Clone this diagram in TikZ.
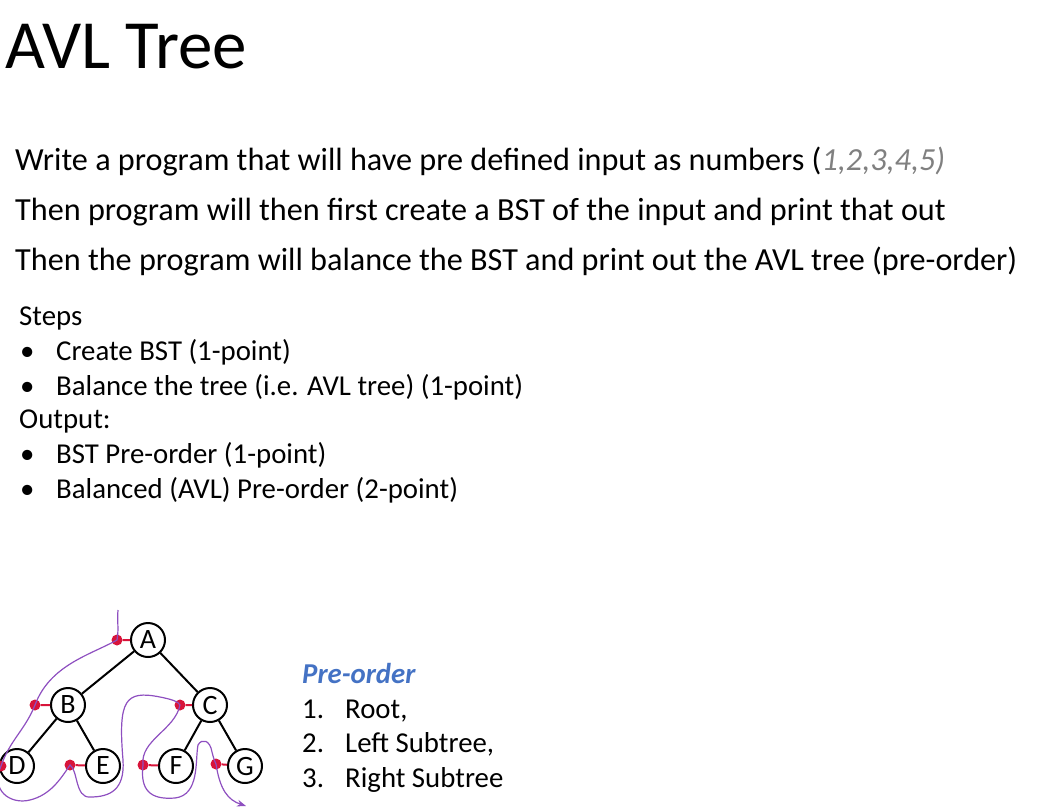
\documentclass[tikz,border=0pt]{standalone}
\usepackage{fontspec}
\setmainfont{Carlito}
\usetikzlibrary{arrows.meta}
\definecolor{pur}{HTML}{8E4FC0}
\definecolor{reddot}{HTML}{D8143A}
\definecolor{blu}{HTML}{4472C4}
\begin{document}
\begin{tikzpicture}[x=1pt,y=-1pt,
  txt/.style={anchor=base west,inner sep=0pt,font=\fontsize{32.2}{34}\selectfont},
  sm/.style={anchor=base west,inner sep=0pt,font=\fontsize{28.8}{30}\selectfont},
  tn/.style={circle,draw,line width=2pt,minimum size=34pt,inner sep=0pt,font=\fontsize{28}{28}\selectfont},
  dot/.style={circle,fill=reddot,inner sep=0pt,minimum size=11pt},
  edge/.style={line width=2pt}]
\useasboundingbox (0,0) rectangle (1056,808);
\node[anchor=base west,inner sep=0pt,font=\fontsize{69}{70}\selectfont] (title) at (5,68) {AVL Tree};
\node[txt] (l1) at (15,170) {Write a program that will have pre defined input as numbers (\textcolor{gray}{\textit{1,2,3,4,5)}}};
\node[txt] (l2) at (15,220) {Then program will then first create a BST of the input and print that out};
\node[txt] (l3) at (15,270) {Then the program will balance the BST and print out the AVL tree (pre-order)};
\node[sm] (s0) at (19,325) {Steps};
\node[sm] (s1) at (56,360) {Create BST (1-point)};
\node[sm] (s2) at (56,395) {Balance the tree (i.e. AVL tree) (1-point)};
\node[sm] (s3) at (19,428) {Output:};
\node[sm] (s4) at (56,463) {BST Pre-order (1-point)};
\node[sm] (s5) at (56,498) {Balanced (AVL) Pre-order (2-point)};
\foreach \y/\n in {360/b1,395/b2,463/b3,498/b4} \node[sm] (\n) at (20,\y) {•};
\node[sm,text=blu,font=\fontsize{28.8}{30}\selectfont\bfseries\itshape] (po) at (302,683) {Pre-order};
\node[sm] (p1) at (302,718) {1.}; \node[sm] (q1) at (345,718) {Root,};
\node[sm] (p2) at (302,752) {2.}; \node[sm] (q2) at (345,752) {Left Subtree,};
\node[sm] (p3) at (302,787) {3.}; \node[sm] (q3) at (345,787) {Right Subtree};
% tree
\node[tn] (A) at (148,640) {A};
\node[tn] (B) at (68,705) {B};
\node[tn] (C) at (210,705) {C};
\node[tn] (D) at (17,766) {D};
\node[tn] (E) at (103,766) {E};
\node[tn] (F) at (176,766) {F};
\node[tn] (G) at (245,766) {G};
\draw[edge] (A)--(B) (A)--(C) (B)--(D) (B)--(E) (C)--(F) (C)--(G);
\node[dot] (dA) at (117,640) {};
\node[dot] (dB) at (35,705) {};
\node[dot] (dC) at (180,705) {};
\node[dot] (dD) at (1,766) {};
\node[dot] (dE) at (70,765) {};
\node[dot] (dF) at (143,765) {};
\node[dot] (dG) at (216,764) {};
\draw[reddot,line width=2pt] (dA)--(A) (dB)--(B) (dC)--(C) (dD)--(D) (dE)--(E) (dF)--(F) (dG)--(G);
\coordinate (st) at (118,610);
\coordinate (en) at (246,806);
\draw[pur,line width=1.2pt,-{Stealth[length=9pt]}] (st) to[out=-95,in=80] (dA.center)
  .. controls (90,655) and (50,665) .. (dB.center)
  .. controls (25,730) and (10,740) .. (dD.center)
  .. controls (-10,790) and (10,805) .. (30,800)
  .. controls (50,795) and (60,780) .. (dE.center)
  .. controls (78,770) and (75,798) .. (90,797)
  .. controls (110,797) and (125,790) .. (123,760)
  .. controls (118,700) and (125,690) .. (160,697)
  .. controls (175,700) and (178,702) .. (dC.center)
  .. controls (175,730) and (140,740) .. (dF.center)
  .. controls (140,790) and (150,800) .. (175,798)
  .. controls (200,795) and (195,760) .. (198,745)
  .. controls (202,738) and (210,740) .. (212,752)
  .. controls (214,760) and (215,762) .. (dG.center)
  .. controls (220,790) and (228,800) .. (en);
\end{tikzpicture}
\end{document}
